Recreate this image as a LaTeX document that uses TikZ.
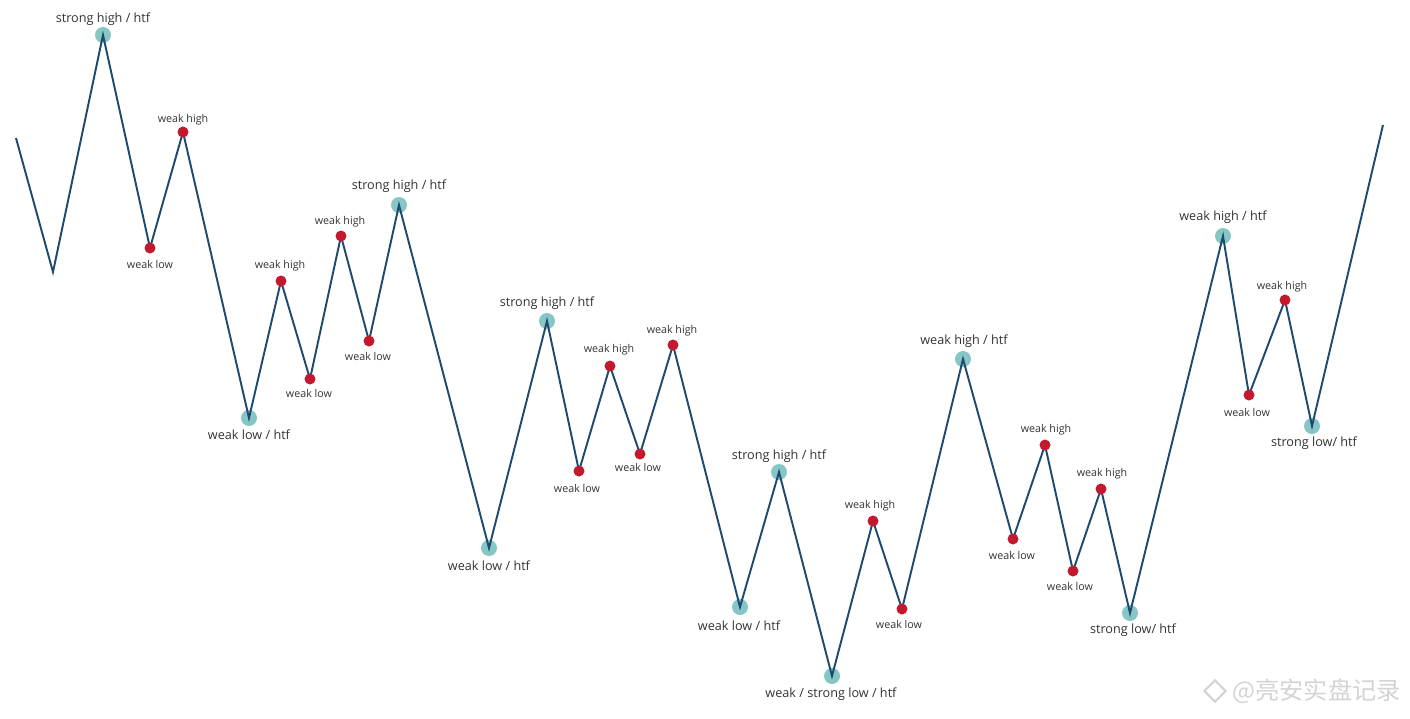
\documentclass[tikz,border=0pt]{standalone}
\usepackage{fontspec}
\usetikzlibrary{shapes.geometric}
\setmainfont{Open Sans}
\newfontfamily\cjk{Noto Sans CJK SC}
\definecolor{navy}{HTML}{1F4A70}
\definecolor{tealdot}{HTML}{86C7C6}
\definecolor{reddot}{HTML}{C4182F}
\definecolor{txt}{HTML}{333333}
\definecolor{wm}{HTML}{D4D4D4}
\tikzset{
  htf/.style={circle,fill=tealdot,minimum size=0.32cm,inner sep=0pt},
  weakdot/.style={circle,fill=reddot,minimum size=0.22cm,inner sep=0pt},
  biglbl/.style={font=\fontsize{7.2}{8}\selectfont,text=txt,inner sep=1pt},
  smalllbl/.style={font=\fontsize{6.1}{7}\selectfont,text=txt,inner sep=1pt},
  pline/.style={draw=navy,line width=1.1pt,line join=miter}
}
\begin{document}
\begin{tikzpicture}[x=0.02cm,y=-0.02cm]
\useasboundingbox (0,0) rectangle (1410,718);
\fill[white] (0,0) rectangle (1410,718);
% pivot coordinates
\coordinate (p0) at (16,138);
\coordinate (p1) at (53,272);
\coordinate (p2) at (103,35);
\coordinate (p3) at (150,248);
\coordinate (p4) at (183,132);
\coordinate (p5) at (249,418);
\coordinate (p6) at (281,281);
\coordinate (p7) at (310,379);
\coordinate (p8) at (341,236);
\coordinate (p9) at (369,341);
\coordinate (p10) at (399,205);
\coordinate (p11) at (489,548);
\coordinate (p12) at (547,321);
\coordinate (p13) at (579,471);
\coordinate (p14) at (610,366);
\coordinate (p15) at (640,454);
\coordinate (p16) at (673,345);
\coordinate (p17) at (740,607);
\coordinate (p18) at (779,472);
\coordinate (p19) at (832,676);
\coordinate (p20) at (873,521);
\coordinate (p21) at (902,609);
\coordinate (p22) at (963,359);
\coordinate (p23) at (1013,539);
\coordinate (p24) at (1045,445);
\coordinate (p25) at (1073,571);
\coordinate (p26) at (1101,489);
\coordinate (p27) at (1130,613);
\coordinate (p28) at (1223,236);
\coordinate (p29) at (1249,395);
\coordinate (p30) at (1285,300);
\coordinate (p31) at (1312,426);
\coordinate (p32) at (1383,125);
% teal htf markers (under the line)
\foreach \i in {2,5,10,11,12,17,18,19,22,27,28,31}
  \node[htf] (h\i) at (p\i) {};
% price line
\draw[pline] (p0) -- (p1) -- (p2) -- (p3) -- (p4) -- (p5) -- (p6) -- (p7) -- (p8)
  -- (p9) -- (p10) -- (p11) -- (p12) -- (p13) -- (p14) -- (p15) -- (p16) -- (p17)
  -- (p18) -- (p19) -- (p20) -- (p21) -- (p22) -- (p23) -- (p24) -- (p25) -- (p26)
  -- (p27) -- (p28) -- (p29) -- (p30) -- (p31) -- (p32);
% red weak markers (over the line)
\foreach \i in {3,4,6,7,8,9,13,14,15,16,20,21,23,24,25,26,29,30}
  \node[weakdot] (w\i) at (p\i) {};
% labels: big
\node[biglbl] (l2) at (103,19) {strong high / htf};
\node[biglbl] (l5) at (249,435) {weak low / htf};
\node[biglbl] (l10) at (399,186) {strong high / htf};
\node[biglbl] (l11) at (489,566) {weak low / htf};
\node[biglbl] (l12) at (547,303) {strong high / htf};
\node[biglbl] (l17) at (739,626) {weak low / htf};
\node[biglbl] (l18) at (779,456) {strong high / htf};
\node[biglbl] (l19) at (831,694) {weak / strong low / htf};
\node[biglbl] (l22) at (964,341) {weak high / htf};
\node[biglbl] (l27) at (1133,630) {strong low/ htf};
\node[biglbl] (l28) at (1223,217) {weak high / htf};
\node[biglbl] (l31) at (1314,443) {strong low/ htf};
% labels: small
\node[smalllbl] (l3) at (150,264) {weak low};
\node[smalllbl] (l4) at (183,120) {weak high};
\node[smalllbl] (l6) at (280,266) {weak high};
\node[smalllbl] (l7) at (309,393) {weak low};
\node[smalllbl] (l8) at (340,222) {weak high};
\node[smalllbl] (l9) at (368,356) {weak low};
\node[smalllbl] (l13) at (577,488) {weak low};
\node[smalllbl] (l14) at (609,350) {weak high};
\node[smalllbl] (l15) at (638,467) {weak low};
\node[smalllbl] (l16) at (672,331) {weak high};
\node[smalllbl] (l20) at (870,506) {weak high};
\node[smalllbl] (l21) at (899,624) {weak low};
\node[smalllbl] (l23) at (1012,555) {weak low};
\node[smalllbl] (l24) at (1046,430) {weak high};
\node[smalllbl] (l25) at (1070,586) {weak low};
\node[smalllbl] (l26) at (1102,474) {weak high};
\node[smalllbl] (l29) at (1247,412) {weak low};
\node[smalllbl] (l30) at (1282,287) {weak high};
% watermark
\node[draw=wm,line width=1.2pt,diamond,minimum size=0.44cm,inner sep=0pt] (wmlogo) at (1215,691) {};
\node[anchor=west,text=wm,inner sep=0pt,font=\cjk\fontsize{13.8}{15}\selectfont] (wmtext) at (1232,691) {@亮安实盘记录};
\end{tikzpicture}
\end{document}
